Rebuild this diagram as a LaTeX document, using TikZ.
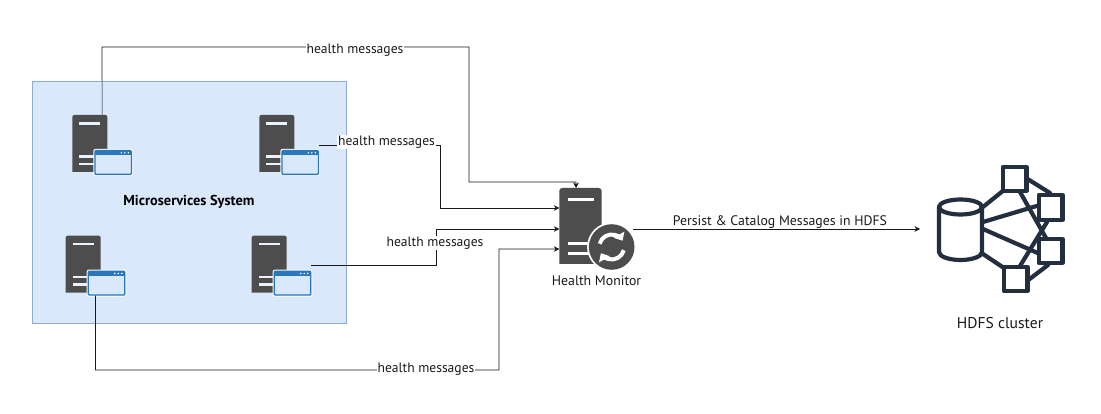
\documentclass[tikz,border=0pt]{standalone}
\usepackage{fontspec}
\setmainfont{PT Sans}
\usetikzlibrary{arrows.meta}
\definecolor{boxfill}{HTML}{DAE8FC}
\definecolor{boxline}{HTML}{8FAAD3}
\definecolor{srv}{HTML}{4D4D4D}
\definecolor{winblue}{HTML}{2A77BD}
\definecolor{hdfsc}{HTML}{232F3E}
\definecolor{txt}{HTML}{1A1A1A}
\tikzset{
  iconbox/.style={inner sep=0pt,outer sep=0pt,draw=none,rectangle},
  conn/.style={draw=black!90,line width=0.65pt,-},
  arrowconn/.style={conn,-{Stealth[length=5.5pt,width=5.5pt]}},
  msg/.style={fill=white,inner sep=0.6pt,font=\fontsize{13.6}{15}\selectfont,text=txt},
  lbl/.style={inner sep=0pt,font=\fontsize{13.8}{15}\selectfont,text=txt},
  hline/.style={draw=hdfsc,line width=4.2pt,line cap=round,line join=round},
}
\newcommand{\svc}[3]{%
  \node[iconbox,minimum width=59.7pt,minimum height=60pt] (#1) at (#2+29.85,#3+30) {};
  \begin{scope}[shift={(#2,#3)}]
    \fill[srv] (0,57) -- (0,2) [rounded corners=2pt] -- (0,0) -- (35,0) -- (35,57) [sharp corners] -- cycle;
    \fill[boxfill!55!white] (7,7.3) rectangle (28,9.6);
    \fill[boxfill!55!white] (7,40.5) rectangle (24,42.6);
    \fill[boxfill!55!white] (7,47.8) rectangle (24,49.9);
    \fill[white,rounded corners=2pt] (21,34) rectangle (60.7,61);
    \fill[boxfill,rounded corners=1pt] (22,35) rectangle (59.7,60);
    \draw[winblue,line width=1.3pt,rounded corners=1pt] (22.6,35.6) rectangle (59.1,59.4);
    \fill[winblue] (22.6,35.6) rectangle (59.1,40);
    \fill[white] (49,37.8) circle (0.8) (52.5,37.8) circle (0.8) (56,37.8) circle (0.8);
  \end{scope}}
\begin{document}
\begin{tikzpicture}[x=1pt,y=-1pt]
\useasboundingbox[fill=white] (0,0) rectangle (1101,414);
\fill[boxfill] (32,81) rectangle (346,323);
\draw[boxline,line width=0.8pt] (32,81) rectangle (346,323);

\svc{sa}{72.3}{115}
\svc{sb}{259.3}{115}
\svc{sc}{65.7}{235.7}
\svc{sd}{251.7}{235.7}
\node[font=\bfseries\fontsize{14.4}{16}\selectfont,text=black,inner sep=0pt] (title) at (189,202) {Microservices System};

% Health monitor
\node[iconbox,minimum width=74pt,minimum height=82pt] (hm) at (596.3,229) {};
\fill[srv] (559.3,264) -- (559.3,190) [rounded corners=3pt] -- (559.3,188) -- (601.7,188) -- (601.7,264) [sharp corners] -- cycle;
\fill[white] (568,198.3) rectangle (593.5,201.2);
\fill[white] (568,241.8) rectangle (590,244.6);
\fill[white] (568,252) rectangle (590,254.8);
\fill[white] (611.7,247) circle (24.6);
\fill[srv] (611.7,247) circle (22.8);
\begin{scope}[shift={(611.7,247)},x=1pt,y=1pt]
  \draw[white,line width=4pt,-{Triangle[length=7pt,width=12pt]}] (165:12.5) arc[start angle=165,end angle=30,radius=12.5];
  \draw[white,line width=4pt,-{Triangle[length=7pt,width=12pt]}] (345:12.5) arc[start angle=345,end angle=210,radius=12.5];
\end{scope}
\node[lbl] (hmlabel) at (596.5,281) {Health Monitor};

% HDFS icon
\node[iconbox,minimum width=160pt,minimum height=128pt] (hdfs) at (1000,229) {};
\begin{scope}
  \draw[hline] (1004,190) -- (983,207);
  \draw[hline] (1004,268) -- (983,254);
  \draw[hline] (983,222) -- (1040,205);
  \draw[hline] (983,229) -- (1040,254);
  \draw[hline] (1020,192) -- (1046,238);
  \draw[hline] (1020,266) -- (1047,222);
  \draw[hline] (1026,178) -- (1050,193);
  \draw[hline] (1027,281) -- (1048,265);
  \draw[hline] (939,207) -- (939,252) arc[start angle=180,end angle=0,x radius=21.5,y radius=8] -- (982,207);
  \draw[hline] (960.5,207) ellipse[x radius=21.5,y radius=7.5];
  \draw[hline,fill=white,line cap=butt] (1003,167) rectangle (1026.5,191);
  \draw[hline,fill=white,line cap=butt] (1039,195) rectangle (1062.5,220);
  \draw[hline,fill=white,line cap=butt] (1039,239) rectangle (1062.5,263);
  \draw[hline,fill=white,line cap=butt] (1004,267) rectangle (1027.5,291);
\end{scope}
\node[lbl,font=\fontsize{15.6}{17}\selectfont] (hdfslabel) at (1000,323) {HDFS cluster};

% Connectors
\coordinate (t1a) at (102,47);
\coordinate (t1b) at (469,47);
\coordinate (t1c) at (469,182);
\coordinate (t1d) at (576,182);
\draw[arrowconn] (sa.north) -- (t1a) -- (t1b) -- (t1c) -- (t1d) -- ([xshift=-20.3pt]hm.north);
\node[msg] (m1) at (355,50) {health messages};

\coordinate (t2a) at (440,145);
\coordinate (t2b) at (440,208);
\draw[arrowconn] (sb.east) -- (t2a) -- (t2b) -- ([yshift=21pt]hm.west);
\node[msg] (m2) at (386.5,142) {health messages};

\coordinate (t3a) at (436,265.7);
\coordinate (t3b) at (436,229);
\draw[arrowconn] (sd.east) -- (t3a) -- (t3b) -- (hm.west);
\node[msg] (m3) at (435,243) {health messages};

\coordinate (t4a) at (95.5,370);
\coordinate (t4b) at (499,370);
\coordinate (t4c) at (499,249);
\draw[arrowconn] (sc.south) -- (t4a) -- (t4b) -- (t4c) -- ([yshift=-20pt]hm.west);
\node[msg] (m4) at (426,369) {health messages};

\draw[arrowconn] (hm.east) -- (hdfs.west);
\node[lbl] (persist) at (780,222) {Persist \& Catalog Messages in HDFS};
\end{tikzpicture}
\end{document}
